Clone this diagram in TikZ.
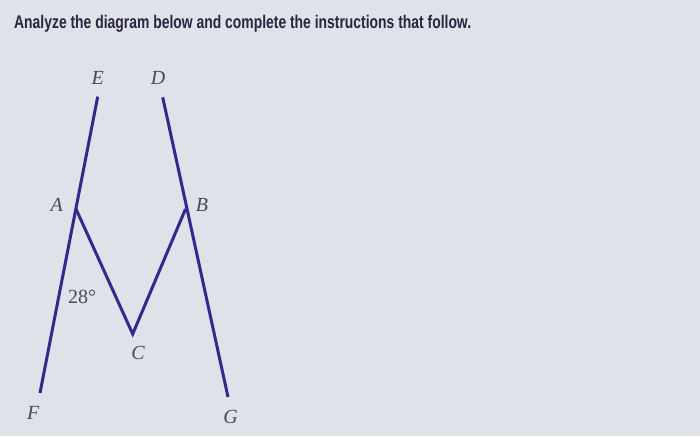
\documentclass[tikz,border=0pt]{standalone}
\usepackage{fontspec}
\setmainfont{Liberation Serif}
\newfontfamily\headfont[FakeStretch=0.76]{Liberation Sans}
\definecolor{bgpaper}{HTML}{DFE2E8}
\definecolor{lineblue}{HTML}{2E2B8C}
\definecolor{lblgray}{HTML}{4A4A52}
\definecolor{headink}{HTML}{2A2540}
\begin{document}
\begin{tikzpicture}[x=1pt,y=-1pt,
    seg/.style={draw=lineblue,line width=3pt},
    lbl/.style={text=lblgray,font=\fontsize{20}{22}\selectfont\itshape,inner sep=0pt},
    deg/.style={text=lblgray,font=\fontsize{20}{22}\selectfont,inner sep=0pt}]
  \fill[bgpaper] (0,0) rectangle (700,436);
  \useasboundingbox (0,0) rectangle (700,436);
  \node[anchor=west,inner sep=0pt,text=headink,font=\headfont\bfseries\fontsize{18.3}{22}\selectfont]
    (title) at (14,24) {Analyze the diagram below and complete the instructions that follow.};
  \draw
    (97.7,96.7) coordinate (E)
    (162.7,97.3) coordinate (D)
    (76,209) coordinate (A)
    (185.5,209) coordinate (B)
    (132.7,334) coordinate (C)
    (40,393) coordinate (F)
    (228,397) coordinate (G);
  \begin{scope}[seg]
    \draw (E) to (F);
    \draw (D) to (G);
    \draw[line join=miter] (A) to (C) to (B);
  \end{scope}
  \node[lbl] (lE) at (97.7,78) {E};
  \node[lbl] (lD) at (158,78) {D};
  \node[lbl] (lA) at (56.7,205) {A};
  \node[lbl] (lB) at (202,205) {B};
  \node[lbl] (lC) at (138,353) {C};
  \node[lbl] (lF) at (33.3,413) {F};
  \node[lbl] (lG) at (230.7,417) {G};
  \node[deg] (ang) at (82,297) {28°};
\end{tikzpicture}
\end{document}
